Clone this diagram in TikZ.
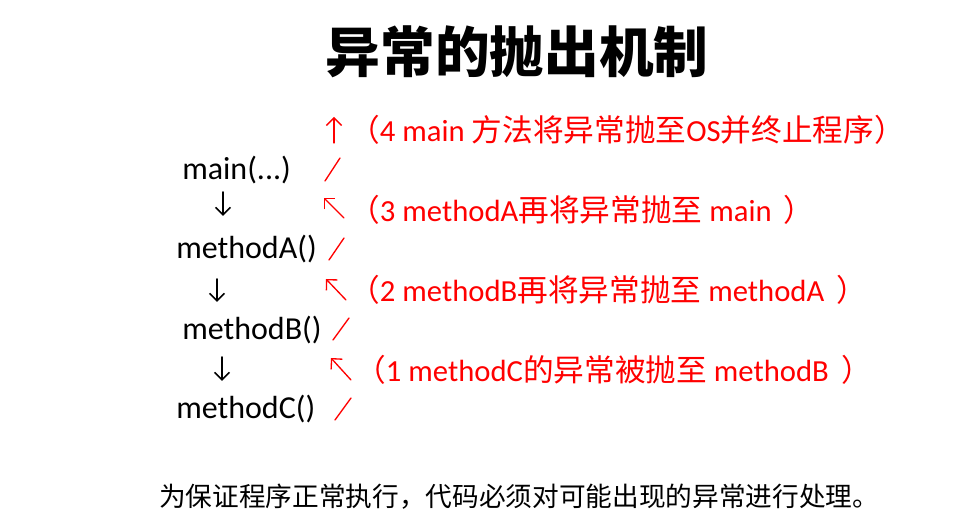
\documentclass[tikz,border=0pt]{standalone}
\usepackage{fontspec}
\setmainfont{Carlito}
\newfontfamily\cjk{Noto Sans CJK SC}
\usetikzlibrary{arrows.meta}
\newcommand{\zh}[1]{{\cjk #1}}
\begin{document}
\begin{tikzpicture}[x=0.75pt,y=-0.75pt,
  method/.style={anchor=west,inner sep=0pt,font=\fontsize{24}{28}\selectfont},
  note/.style={anchor=west,inner sep=0pt,text=red,font=\fontsize{23}{27}\selectfont},
  stroke/.style={line width=1pt,line cap=round},
  tip/.style={-{Straight Barb[length=5pt,angle=90:8pt]}}]
\useasboundingbox (0,0) rectangle (968,523);
\node (title) at (517,52) {\cjk\bfseries\fontsize{41}{45}\selectfont 异常的抛出机制};
% call chain
\node[method] (main) at (182,170) {main(...)};
\node[method] (ma) at (176,249) {methodA()};
\node[method] (mb) at (182,330) {methodB()};
\node[method] (mc) at (176,409) {methodC()};
\draw[stroke,tip,line width=1.2pt] (223,192) -- (223,216);
\draw[stroke,tip,line width=1.2pt] (217,279) -- (217,302);
\draw[stroke,tip,line width=1.2pt] (222,357) -- (222,381);
% way back up
\draw[stroke,tip,red] (334,143) -- (334,117);
\draw[stroke,red] (325,181) -- (340,158);
\draw[stroke,tip,red] (344,218) -- (324,198);
\draw[stroke,red] (329,260) -- (344,238);
\draw[stroke,tip,red] (346,300) -- (326,279);
\draw[stroke,red] (333,340) -- (349,318);
\draw[stroke,tip,red] (351,380) -- (331,358);
\draw[stroke,red] (335,420) -- (351,398);
\node[note] (n4) at (349,130) {\zh{（}4 main \zh{方法将异常抛至}OS\zh{并终止程序）}};
\node[note] (n3) at (349,210) {\zh{（}3 methodA\zh{再将异常抛至} main\hspace{4pt} \zh{）}};
\node[note] (n2) at (349,290) {\zh{（}2 methodB\zh{再将异常抛至} methodA\hspace{4pt} \zh{）}};
\node[note] (n1) at (355,370) {\zh{（}1 methodC\zh{的异常被抛至} methodB\hspace{4pt} \zh{）}};
\node[anchor=west,inner sep=0pt] (foot) at (159,497) {\cjk\fontsize{20}{24}\selectfont 为保证程序正常执行，代码必须对可能出现的异常进行处理。};
\end{tikzpicture}
\end{document}
